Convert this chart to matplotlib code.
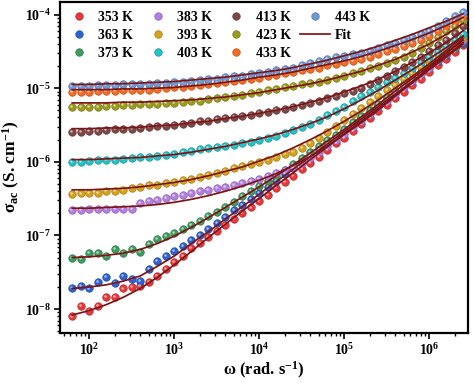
import matplotlib

matplotlib.use("Agg")
import matplotlib.pyplot as plt
import numpy as np
from matplotlib.transforms import offset_copy

# measured frequencies, log10(omega), 10 points per decade
LOG_W = [1.8, 1.9, 2.0, 2.1, 2.2, 2.3, 2.4, 2.5, 2.6, 2.7, 2.8, 2.9, 3.0, 3.1, 3.2, 3.3,
         3.4, 3.5, 3.6, 3.7, 3.8, 3.9, 4.0, 4.1, 4.2, 4.3, 4.4, 4.5, 4.6, 4.7, 4.8, 4.9,
         5.0, 5.1, 5.2, 5.3, 5.4, 5.5, 5.6, 5.7, 5.8, 5.9, 6.0, 6.1, 6.2, 6.3, 6.4]
# fit curves sampled every 0.2 decade
LOG_W_FIT = [1.8, 2.0, 2.2, 2.4, 2.6, 2.8, 3.0, 3.2, 3.4, 3.6, 3.8, 4.0,
             4.2, 4.4, 4.6, 4.8, 5.0, 5.2, 5.4, 5.6, 5.8, 6.0, 6.2, 6.4]

TEMPS = ["353 K", "363 K", "373 K", "383 K", "393 K", "403 K", "413 K", "423 K", "433 K", "443 K"]

# log10(sigma_ac) of the measured points
S353 = [-8.10, -7.96, -8.02, -7.96, -7.84, -7.83, -7.72, -7.70, -7.69, -7.63, -7.55, -7.46, -7.36, -7.28, -7.17, -7.10,
        -7.02, -6.94, -6.86, -6.78, -6.70, -6.62, -6.53, -6.45, -6.36, -6.28, -6.19, -6.10, -6.02, -5.93, -5.84, -5.75,
        -5.67, -5.58, -5.49, -5.40, -5.31, -5.23, -5.14, -5.05, -4.96, -4.87, -4.78, -4.69, -4.60, -4.51, -4.42]
S363 = [-7.71, -7.69, -7.72, -7.63, -7.56, -7.64, -7.55, -7.59, -7.62, -7.46, -7.35, -7.28, -7.21, -7.14, -7.06, -6.99,
        -6.91, -6.83, -6.75, -6.66, -6.58, -6.50, -6.42, -6.34, -6.26, -6.17, -6.09, -6.00, -5.92, -5.83, -5.75, -5.66,
        -5.58, -5.49, -5.41, -5.32, -5.23, -5.15, -5.06, -4.97, -4.89, -4.80, -4.72, -4.63, -4.55, -4.46, -4.38]
S373 = [-7.31, -7.32, -7.24, -7.24, -7.28, -7.19, -7.24, -7.19, -7.23, -7.12, -7.05, -7.01, -6.96, -6.91, -6.86, -6.80,
        -6.74, -6.68, -6.61, -6.54, -6.47, -6.40, -6.33, -6.26, -6.19, -6.11, -6.03, -5.95, -5.87, -5.79, -5.71, -5.63,
        -5.55, -5.46, -5.38, -5.29, -5.21, -5.12, -5.04, -4.95, -4.87, -4.78, -4.70, -4.61, -4.53, -4.45, -4.36]
S383 = [-6.66, -6.65, -6.64, -6.64, -6.64, -6.64, -6.64, -6.64, -6.56, -6.53, -6.52, -6.49, -6.47, -6.45, -6.42, -6.40,
        -6.38, -6.36, -6.34, -6.31, -6.29, -6.26, -6.23, -6.19, -6.15, -6.11, -6.07, -6.02, -5.95, -5.87, -5.79, -5.71,
        -5.62, -5.53, -5.44, -5.35, -5.26, -5.17, -5.08, -4.99, -4.90, -4.81, -4.72, -4.62, -4.53, -4.43, -4.34]
S393 = [-6.44, -6.43, -6.42, -6.42, -6.40, -6.40, -6.38, -6.36, -6.34, -6.32, -6.31, -6.29, -6.27, -6.25, -6.23, -6.21,
        -6.18, -6.15, -6.12, -6.09, -6.06, -6.03, -6.00, -5.97, -5.94, -5.90, -5.86, -5.81, -5.75, -5.68, -5.59, -5.51,
        -5.43, -5.35, -5.27, -5.19, -5.11, -5.03, -4.95, -4.87, -4.79, -4.71, -4.63, -4.55, -4.47, -4.38, -4.30]
S403 = [-6.00, -6.00, -5.99, -5.98, -5.97, -5.97, -5.96, -5.95, -5.94, -5.93, -5.92, -5.91, -5.89, -5.87, -5.85, -5.83,
        -5.81, -5.80, -5.78, -5.77, -5.75, -5.73, -5.71, -5.68, -5.65, -5.61, -5.57, -5.53, -5.48, -5.43, -5.37, -5.31,
        -5.25, -5.18, -5.11, -5.05, -4.99, -4.92, -4.86, -4.80, -4.73, -4.65, -4.58, -4.51, -4.43, -4.34, -4.26]
S413 = [-5.59, -5.59, -5.58, -5.58, -5.57, -5.56, -5.56, -5.55, -5.54, -5.53, -5.52, -5.51, -5.50, -5.48, -5.47, -5.45,
        -5.44, -5.42, -5.41, -5.39, -5.38, -5.36, -5.34, -5.32, -5.30, -5.28, -5.26, -5.23, -5.20, -5.17, -5.14, -5.11,
        -5.07, -5.04, -5.00, -4.95, -4.89, -4.83, -4.77, -4.71, -4.64, -4.57, -4.49, -4.42, -4.34, -4.25, -4.16]
S423 = [-5.26, -5.26, -5.25, -5.25, -5.24, -5.24, -5.23, -5.23, -5.22, -5.22, -5.21, -5.20, -5.20, -5.19, -5.18, -5.17,
        -5.15, -5.14, -5.12, -5.11, -5.09, -5.07, -5.05, -5.03, -5.01, -4.99, -4.97, -4.95, -4.93, -4.91, -4.89, -4.86,
        -4.83, -4.80, -4.77, -4.73, -4.70, -4.66, -4.62, -4.58, -4.52, -4.45, -4.38, -4.30, -4.23, -4.15, -4.08]
S433 = [-5.05, -5.05, -5.05, -5.04, -5.04, -5.04, -5.03, -5.03, -5.02, -5.02, -5.01, -5.00, -4.99, -4.98, -4.97, -4.96,
        -4.95, -4.93, -4.92, -4.90, -4.89, -4.87, -4.86, -4.84, -4.82, -4.80, -4.78, -4.76, -4.74, -4.72, -4.69, -4.67,
        -4.65, -4.63, -4.60, -4.57, -4.54, -4.50, -4.47, -4.43, -4.39, -4.34, -4.29, -4.23, -4.16, -4.09, -4.02]
S443 = [-4.97, -4.97, -4.97, -4.96, -4.96, -4.96, -4.95, -4.95, -4.94, -4.94, -4.93, -4.93, -4.92, -4.91, -4.90, -4.89,
        -4.88, -4.87, -4.85, -4.84, -4.83, -4.81, -4.80, -4.78, -4.76, -4.74, -4.72, -4.69, -4.66, -4.63, -4.61, -4.58,
        -4.56, -4.54, -4.52, -4.49, -4.45, -4.42, -4.39, -4.35, -4.31, -4.27, -4.22, -4.16, -4.09, -4.02, -3.96]

# log10(sigma_ac) of the fit curves
F353 = [-8.08, -8.02, -7.94, -7.84, -7.72, -7.57, -7.40, -7.22, -7.03, -6.85, -6.67, -6.50,
        -6.32, -6.15, -5.97, -5.80, -5.62, -5.45, -5.28, -5.10, -4.93, -4.75, -4.58, -4.40]
F363 = [-7.72, -7.70, -7.67, -7.62, -7.55, -7.42, -7.28, -7.11, -6.95, -6.78, -6.61, -6.44,
        -6.27, -6.10, -5.93, -5.76, -5.59, -5.42, -5.25, -5.08, -4.91, -4.73, -4.56, -4.38]
F373 = [-7.30, -7.29, -7.27, -7.24, -7.19, -7.11, -7.01, -6.89, -6.76, -6.62, -6.48, -6.34,
        -6.19, -6.04, -5.88, -5.72, -5.56, -5.39, -5.22, -5.04, -4.87, -4.70, -4.52, -4.35]
F383 = [-6.63, -6.63, -6.62, -6.61, -6.60, -6.58, -6.55, -6.51, -6.46, -6.40, -6.33, -6.25,
        -6.16, -6.05, -5.93, -5.79, -5.63, -5.47, -5.30, -5.11, -4.92, -4.72, -4.53, -4.33]
F393 = [-6.38, -6.38, -6.37, -6.36, -6.34, -6.31, -6.28, -6.24, -6.19, -6.13, -6.07, -5.99,
        -5.91, -5.81, -5.70, -5.58, -5.45, -5.31, -5.16, -5.00, -4.84, -4.67, -4.49, -4.30]
F403 = [-5.97, -5.97, -5.96, -5.95, -5.94, -5.92, -5.90, -5.87, -5.83, -5.79, -5.74, -5.69,
        -5.63, -5.56, -5.48, -5.39, -5.28, -5.16, -5.03, -4.89, -4.75, -4.60, -4.45, -4.29]
F413 = [-5.55, -5.55, -5.54, -5.54, -5.53, -5.51, -5.50, -5.47, -5.45, -5.41, -5.38, -5.34,
        -5.30, -5.25, -5.19, -5.13, -5.05, -4.97, -4.88, -4.77, -4.65, -4.52, -4.38, -4.22]
F423 = [-5.20, -5.20, -5.20, -5.19, -5.19, -5.18, -5.17, -5.16, -5.14, -5.12, -5.09, -5.06,
        -5.02, -4.98, -4.94, -4.89, -4.83, -4.77, -4.69, -4.61, -4.51, -4.40, -4.27, -4.12]
F433 = [-5.02, -5.02, -5.02, -5.01, -5.01, -5.00, -4.99, -4.97, -4.95, -4.92, -4.89, -4.85,
        -4.82, -4.78, -4.73, -4.68, -4.63, -4.57, -4.50, -4.42, -4.34, -4.25, -4.15, -4.04]
F443 = [-4.95, -4.95, -4.94, -4.94, -4.93, -4.92, -4.91, -4.89, -4.87, -4.85, -4.82, -4.79,
        -4.76, -4.72, -4.67, -4.62, -4.56, -4.50, -4.43, -4.35, -4.27, -4.18, -4.09, -3.99]

POINTS = [S353, S363, S373, S383, S393, S403, S413, S423, S433, S443]
FITS = [F353, F363, F373, F383, F393, F403, F413, F423, F433, F443]
COLORS = ["#e8383c", "#2c62d2", "#3f9c5e", "#b47ee2", "#d6a21c",
          "#22c2c6", "#7e4848", "#9c9c1c", "#f46c22", "#6e9ad8"]
FIT_COLOR = "#7e1416"

plt.rcParams["font.family"] = ["Liberation Serif", "DejaVu Serif"]
plt.rcParams["font.weight"] = "bold"
plt.rcParams["mathtext.fontset"] = "custom"
plt.rcParams["mathtext.rm"] = "Liberation Serif:bold"
plt.rcParams["mathtext.bf"] = "Liberation Serif:bold"
plt.rcParams["mathtext.it"] = "Liberation Serif:bold:italic"
plt.rcParams["mathtext.default"] = "rm"


def shade(color, k):
    c = np.array(matplotlib.colors.to_rgb(color))
    return tuple(np.clip(c * k, 0, 1))


fig = plt.figure(figsize=(4.74, 3.89), dpi=100)
ax = fig.add_axes([0.127, 0.145, 0.86, 0.851])

w = 10 ** np.array(LOG_W)
w_fit = 10 ** np.array(LOG_W_FIT)
# small white offset dot gives the markers their glossy, sphere-like look
hl = offset_copy(ax.transData, fig=fig, x=-0.7, y=0.7, units="points")

for label, pts, color in zip(TEMPS, POINTS, COLORS):
    s = 10 ** np.array(pts)
    ax.plot(w, s, "o", ms=5.4, color=color, mec=shade(color, 0.75), mew=0.5,
            label=label, zorder=3)
    ax.plot(w, s, "o", ms=1.8, color="white", alpha=0.6, mew=0,
            transform=hl, zorder=3.5)

for i, fit in enumerate(FITS):
    ax.plot(w_fit, 10 ** np.array(fit), "-", color=FIT_COLOR, lw=1.25, zorder=4,
            label="Fit" if i == 0 else None)

ax.set_xscale("log")
ax.set_yscale("log")
ax.set_xlim(45.6, 2.85e6)
ax.set_ylim(4.8e-9, 1.5e-4)

for sp in ax.spines.values():
    sp.set_linewidth(1.6)
ax.tick_params(which="major", direction="out", length=4.5, width=1.2,
               labelsize=10, top=False, right=False, pad=2)
ax.tick_params(which="minor", direction="out", length=2.5, width=1.0,
               top=False, right=False)
for t in ax.get_xticklabels() + ax.get_yticklabels():
    t.set_fontweight("bold")

ax.set_xlabel("ω (rad. s$^{-1}$)", fontsize=12, fontweight="bold", labelpad=2)
ax.set_ylabel("σ$_{ac}$ (S. cm$^{-1}$)", fontsize=12.5, fontweight="bold", labelpad=2)

handles, labels = ax.get_legend_handles_labels()
ax.legend(handles, labels, loc="upper left", bbox_to_anchor=(0.005, 0.976),
          ncol=4, frameon=False, numpoints=1, handlelength=2.2,
          handletextpad=0.3, columnspacing=0.65, labelspacing=0.35,
          borderpad=0.1, borderaxespad=0.0,
          prop={"weight": "bold", "size": 10})

fig.savefig("out.png", dpi=100)
